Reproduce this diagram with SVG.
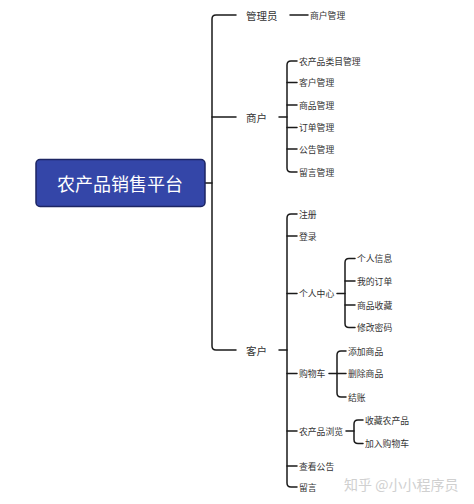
<svg xmlns="http://www.w3.org/2000/svg" width="474" height="504" viewBox="0 0 474 504">
<style>
.c{fill:none;stroke:#1a1a1a;stroke-width:1.5;stroke-linecap:round}
text{font-family:"Noto Sans CJK SC","Noto Sans",sans-serif;dominant-baseline:central;fill:#333}
.l1{font-size:10.5px}
.l2{font-size:8.8px}
.root{font-size:18px;fill:#fff;text-anchor:middle}
.wm{font-size:14px;fill:#d0d0d0}
</style>
<rect width="474" height="504" fill="#fff"/>
<g id="connectors">
<path class="c" d="M205,183 H212"/>
<path class="c" d="M236,15 H216 Q212,15 212,19 V346 Q212,350 216,350 H236"/>
<path class="c" d="M212,117 H236"/>
<path class="c" d="M290,15 H308"/>
<path class="c" d="M279,117 H287"/>
<path class="c" d="M297,61 H291 Q287,61 287,65 V168 Q287,172 291,172 H297"/>
<path class="c" d="M287,82.5 H297 M287,105 H297 M287,127.5 H297 M287,149 H297"/>
<path class="c" d="M279,350 H287"/>
<path class="c" d="M297,214 H291 Q287,214 287,218 V483 Q287,487 291,487 H297"/>
<path class="c" d="M287,236 H297 M287,293.5 H297 M287,373.5 H297 M287,431 H297 M287,466 H297"/>
<path class="c" d="M337,293.5 H345"/>
<path class="c" d="M355,258.5 H349 Q345,258.5 345,262.5 V323.5 Q345,327.5 349,327.5 H355"/>
<path class="c" d="M345,281 H355 M345,305 H355"/>
<path class="c" d="M329,373.5 H337"/>
<path class="c" d="M346,351 H341 Q337,351 337,355 V393 Q337,397 341,397 H346"/>
<path class="c" d="M337,373.5 H346"/>
<path class="c" d="M346,431 H354"/>
<path class="c" d="M363,420 H358 Q354,420 354,424 V439.5 Q354,443.5 358,443.5 H363"/>
</g>
<g id="root">
<rect x="36" y="159.5" width="169" height="47" rx="4" fill="#3446a8" stroke="#1c2563" stroke-width="1.5"/>
<text class="root" x="120" y="183">农产品销售平台</text>
</g>
<g id="admin"><text class="l1" x="246" y="15">管理员</text></g>
<g id="admin-merchant"><text class="l2" x="310" y="15">商户管理</text></g>
<g id="merchant"><text class="l1" x="246" y="117">商户</text></g>
<g id="m1"><text class="l2" x="299" y="61">农产品类目管理</text></g>
<g id="m2"><text class="l2" x="299" y="82.5">客户管理</text></g>
<g id="m3"><text class="l2" x="299" y="105">商品管理</text></g>
<g id="m4"><text class="l2" x="299" y="127.5">订单管理</text></g>
<g id="m5"><text class="l2" x="299" y="149">公告管理</text></g>
<g id="m6"><text class="l2" x="299" y="172">留言管理</text></g>
<g id="customer"><text class="l1" x="246" y="350">客户</text></g>
<g id="c1"><text class="l2" x="299" y="214">注册</text></g>
<g id="c2"><text class="l2" x="299" y="236">登录</text></g>
<g id="c3"><text class="l2" x="299" y="293.5">个人中心</text></g>
<g id="c3a"><text class="l2" x="357" y="258.5">个人信息</text></g>
<g id="c3b"><text class="l2" x="357" y="281">我的订单</text></g>
<g id="c3c"><text class="l2" x="357" y="305">商品收藏</text></g>
<g id="c3d"><text class="l2" x="357" y="327.5">修改密码</text></g>
<g id="c4"><text class="l2" x="299" y="373.5">购物车</text></g>
<g id="c4a"><text class="l2" x="348" y="351">添加商品</text></g>
<g id="c4b"><text class="l2" x="348" y="373.5">删除商品</text></g>
<g id="c4c"><text class="l2" x="348" y="397">结账</text></g>
<g id="c5"><text class="l2" x="299" y="431">农产品浏览</text></g>
<g id="c5a"><text class="l2" x="365" y="420">收藏农产品</text></g>
<g id="c5b"><text class="l2" x="365" y="443.5">加入购物车</text></g>
<g id="c6"><text class="l2" x="299" y="466">查看公告</text></g>
<g id="c7"><text class="l2" x="299" y="487">留言</text></g>
<text class="wm" x="344" y="484">知乎 @小小程序员</text>
</svg>
